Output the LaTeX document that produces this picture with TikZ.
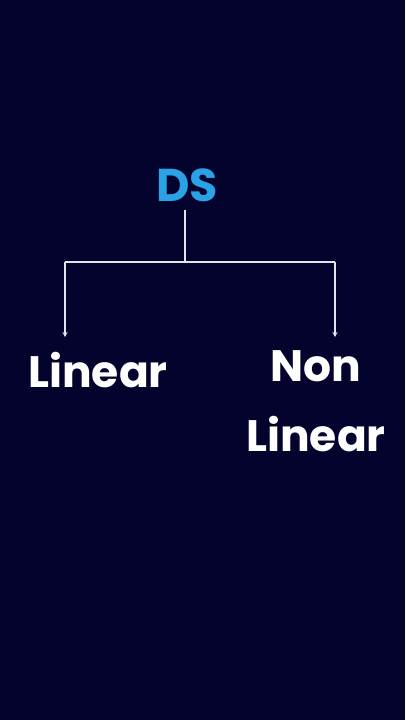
\documentclass[tikz,border=0pt]{standalone}
\usepackage{fontspec}
\setmainfont{Poppins}
\definecolor{navy}{HTML}{03032E}
\definecolor{dsblue}{HTML}{29A3E6}
\definecolor{wire}{HTML}{E4E4F0}
\usetikzlibrary{arrows.meta}
\tikzset{
  label/.style={text=white, font=\bfseries\fontsize{44}{70}\selectfont, inner sep=0pt, align=center},
  branch/.style={draw=wire, line width=1.4pt},
  tip/.style={-{Stealth[length=5pt,width=5pt]}}
}
\begin{document}
\begin{tikzpicture}[x=1pt,y=-1pt]
\fill[navy] (0,0) rectangle (405,720);
\useasboundingbox (0,0) rectangle (405,720);
\node (ds) [label, text=dsblue, font=\bfseries\fontsize{46}{70}\selectfont, inner sep=8pt] at (187,185) {DS};
\node (lin) [label] at (98,370) {Linear};
\node (nonlin) [label] at (316,401) {Non\\Linear};
\coordinate (split) at (185,262);
\coordinate (lt) at (65,262);
\coordinate (rt) at (335,262);
\coordinate (la) at (65,337);
\coordinate (ra) at (335,337);
\draw [branch] (ds.south -| split) -- (split);
\draw [branch] (lt) -- (rt);
\draw [branch, tip] (lt) -- (la);
\draw [branch, tip] (rt) -- (ra);
\end{tikzpicture}
\end{document}
